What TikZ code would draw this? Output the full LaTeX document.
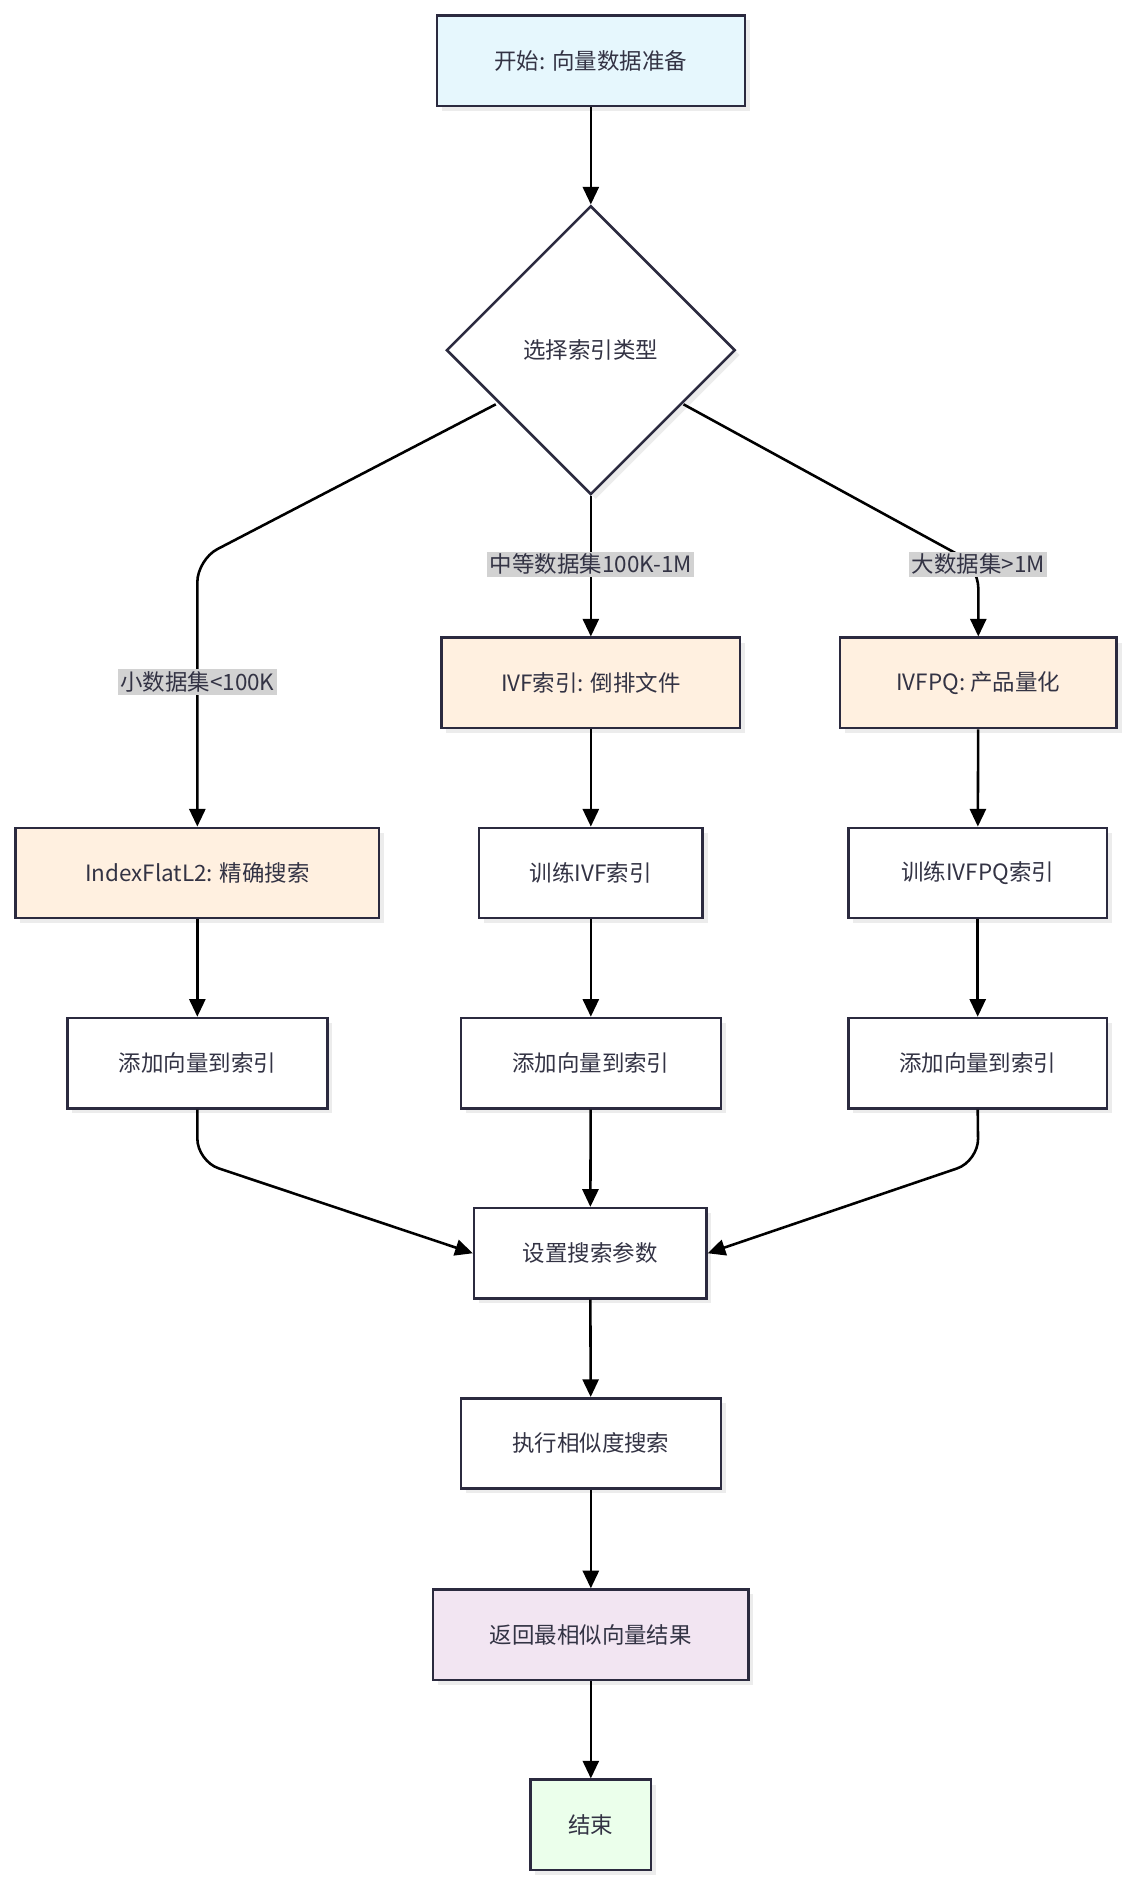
\documentclass[tikz,border=0pt]{standalone}
\usepackage{fontspec}
\setmainfont{Noto Sans CJK SC}
\usetikzlibrary{shapes.geometric,arrows.meta,shadows}
\definecolor{bd}{HTML}{2B2A3F}
\definecolor{txt}{HTML}{333344}
\begin{document}
\begin{tikzpicture}[x=0.75pt,y=-0.75pt,
  box/.style={draw=bd,line width=1.6pt,fill=white,font=\fontsize{14}{16}\selectfont,text=txt,
    drop shadow={shadow xshift=3pt,shadow yshift=-3pt,fill=gray!25,opacity=0.6}},
  lab/.style={fill=gray!35,inner sep=1.5pt,font=\fontsize{14}{16}\selectfont,text=txt},
  ar/.style={line width=1.6pt,draw=black,-{Triangle[length=11pt,width=10pt]},rounded corners=14pt}]
\useasboundingbox (0,0) rectangle (940,1564);
\newcommand\bx[6]{\node[box,fill=#6,minimum width={(#4-#2)*0.75pt},minimum height={(#5-#3)*0.75pt},inner sep=0pt] (#1) at ({(#2+#4)/2},{(#3+#5)/2}) {};}
\bx{s}{363}{13}{619}{88}{cyan!10}
\node[font=\fontsize{14}{16}\selectfont,text=txt] at (s) {开始: 向量数据准备};
\node[box,diamond,minimum width=180pt,minimum height=180pt,inner sep=0pt] (d) at (491,291) {};
\node[font=\fontsize{14}{16}\selectfont,text=txt] at (d) {选择索引类型};
\bx{ivf}{367}{530}{615}{605}{orange!12}
\node[font=\fontsize{14}{16}\selectfont,text=txt] at (ivf) {IVF索引: 倒排文件};
\bx{pq}{698}{530}{928}{605}{orange!12}
\node[font=\fontsize{14}{16}\selectfont,text=txt] at (pq) {IVFPQ: 产品量化};
\bx{fl}{13}{688}{315}{763}{orange!12}
\node[font=\fontsize{14}{16}\selectfont,text=txt] at (fl) {IndexFlatL2: 精确搜索};
\bx{t1}{398}{688}{584}{763}{white}
\node[font=\fontsize{14}{16}\selectfont,text=txt] at (t1) {训练IVF索引};
\bx{t2}{705}{688}{920}{763}{white}
\node[font=\fontsize{14}{16}\selectfont,text=txt] at (t2) {训练IVFPQ索引};
\bx{a1}{56}{846}{272}{921}{white}
\node[font=\fontsize{14}{16}\selectfont,text=txt] at (a1) {添加向量到索引};
\bx{a2}{383}{846}{599}{921}{white}
\node[font=\fontsize{14}{16}\selectfont,text=txt] at (a2) {添加向量到索引};
\bx{a3}{705}{846}{920}{921}{white}
\node[font=\fontsize{14}{16}\selectfont,text=txt] at (a3) {添加向量到索引};
\bx{p}{394}{1004}{587}{1079}{white}
\node[font=\fontsize{14}{16}\selectfont,text=txt] at (p) {设置搜索参数};
\bx{e}{383}{1162}{599}{1237}{white}
\node[font=\fontsize{14}{16}\selectfont,text=txt] at (e) {执行相似度搜索};
\bx{r}{360}{1321}{622}{1396}{violet!10}
\node[font=\fontsize{14}{16}\selectfont,text=txt] at (r) {返回最相似向量结果};
\bx{z}{441}{1479}{541}{1554}{green!8}
\node[font=\fontsize{14}{16}\selectfont,text=txt] at (z) {结束};
\coordinate (dl) at (412,336); \coordinate (dr) at (568,336);
\draw[ar] (s) -- (d);
\draw[ar] (dl) -- (164,465) -- (fl.north);
\draw[ar] (d.south) -- (ivf.north);
\draw[ar] (dr) -- (813,470) -- (pq.north);
\node[lab] at (164,567) {小数据集<100K};
\node[lab] at (491,469) {中等数据集100K-1M};
\node[lab] at (813,469) {大数据集>1M};
\draw[ar] (ivf) -- (t1); \draw[ar] (pq) -- (t2);
\draw[ar] (fl) -- (a1); \draw[ar] (t1) -- (a2); \draw[ar] (t2) -- (a3);
\draw[ar] (a1.south) -- (164,965) -- (p.west);
\draw[ar] (a2) -- (p);
\draw[ar] (a3.south) -- (813,965) -- (p.east);
\draw[ar] (p) -- (e); \draw[ar] (e) -- (r); \draw[ar] (r) -- (z);
\end{tikzpicture}
\end{document}
